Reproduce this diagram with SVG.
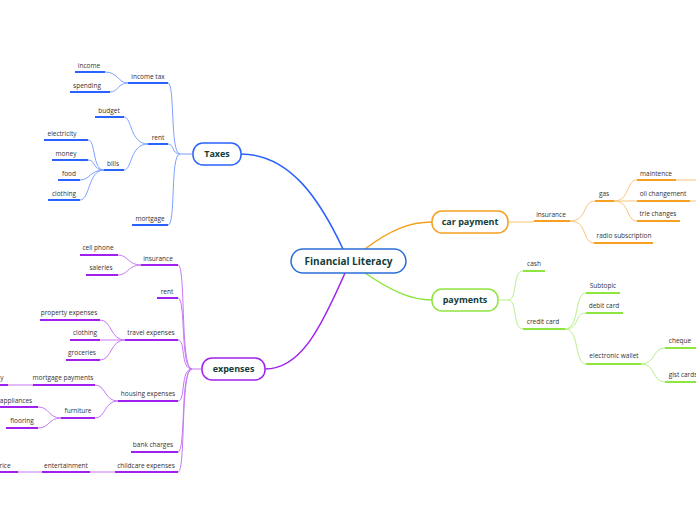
<svg xmlns="http://www.w3.org/2000/svg" width="696" height="520" viewBox="0 0 696 520">
<style>
text{font-family:"Open Sans","Liberation Sans",sans-serif;font-size:6.5px;fill:#333;text-anchor:middle}
.m{font-size:9px;font-weight:bold;fill:#123d3a}
.c{font-size:10px;font-weight:bold;fill:#123d3a}
.b{stroke:#2962ff}.p{stroke:#a020f0}.o{stroke:#f5a020}.g{stroke:#8ee53f}
.u{stroke-width:2;fill:none}
.l{fill:none;stroke-width:1;opacity:.6}
.n{fill:#fff;stroke-width:1.5}
</style>
<rect width="696" height="520" fill="#fff"/>
<g id="connectors">
<path class="b" fill="none" stroke-width="1.5" d="M343 249C320 200 290 154 241 154"/>
<path class="p" fill="none" stroke-width="1.5" d="M345 273C320 330 300 369 265 369"/>
<path class="o" fill="none" stroke-width="1.5" d="M365 249C390 230 410 222 432 222"/>
<path class="g" fill="none" stroke-width="1.5" d="M365 273C390 290 410 300 432 300"/>
<g class="l b">
<path d="M193 154H180C170 154 175 83 168 83"/><path d="M180 154C172 154 174 144 168 144"/><path d="M180 154C170 154 176 225 168 225"/>
<path d="M128 83C118 83 118 72 105 72"/><path d="M128 83C118 83 118 92 110 92"/>
<path d="M148 144C130 144 132 117 124 117"/><path d="M148 144C130 144 132 170 124 170"/>
<path d="M104 170C92 170 96 140 88 140"/><path d="M104 170C92 170 96 160 88 160"/><path d="M104 170C90 170 90 180 80 180"/><path d="M104 170C88 170 90 200 80 200"/>
</g>
<g class="l p">
<path d="M202 369H192C180 369 186 265 178 265"/><path d="M192 369C180 369 186 298 178 298"/><path d="M192 369C180 369 186 340 178 340"/><path d="M192 369C180 369 186 401 178 401"/><path d="M192 369C180 369 186 452 178 452"/><path d="M192 369C180 369 186 472 178 472"/>
<path d="M141 265C128 265 128 255 118 255"/><path d="M141 265C128 265 128 275 118 275"/>
<path d="M125 340C110 340 112 320 100 320"/><path d="M125 340H100"/><path d="M125 340C110 340 112 360 100 360"/>
<path d="M118 401C104 401 106 385 95 385"/><path d="M118 401C104 401 106 418 95 418"/><path d="M33 385H8"/>
<path d="M61 418C48 418 50 407 38 407"/><path d="M61 418C48 418 50 428 38 428"/>
<path d="M115 472H90"/><path d="M42 472H18"/>
</g>
<g class="l o">
<path d="M508 222H534"/><path d="M570 221C588 221 582 201 595 201"/><path d="M570 221C588 221 582 243 594 243"/>
<path d="M614 201C630 201 626 180 637 180"/><path d="M614 201H637"/><path d="M614 201C630 201 626 221 637 221"/><path d="M676 180H696"/><path d="M690 201H696"/>
</g>
<g class="l g">
<path d="M498 300H508C518 300 512 271 523 271"/><path d="M508 300C518 300 512 329 523 329"/>
<path d="M565 329C580 329 574 293 586 293"/><path d="M565 329C580 329 574 313 586 313"/><path d="M565 329C580 329 574 364 586 364"/>
<path d="M641 364C656 364 652 348 665 348"/><path d="M641 364C656 364 652 382 665 382"/>
</g>
</g>
<g id="central"><rect class="n" x="291" y="249" width="115" height="24" rx="12" stroke="#2a6fd6"/><text class="c" x="348.5" y="265">Financial Literacy</text></g>
<g id="taxes"><rect class="n b" x="193" y="143" width="48" height="22" rx="10"/><text class="m" x="217" y="157">Taxes</text>
<g class="u b"><path d="M128 83H168M75 72H105M70 92H110M148 144H168M95 117H124M104 170H124M44 140H88M52 160H88M58 180H80M48 200H80M132 225H168"/></g>
<text x="148" y="79">income tax</text><text x="89" y="68">income</text><text x="87" y="88">spending</text><text x="158" y="140">rent</text><text x="109" y="113">budget</text><text x="113" y="166">bills</text><text x="62" y="136">electricity</text><text x="66" y="156">money</text><text x="69" y="176">food</text><text x="64" y="196">clothing</text><text x="150" y="221">mortgage</text></g>
<g id="expenses"><rect class="n p" x="202" y="358" width="63" height="22" rx="10"/><text class="m" x="233.5" y="372">expenses</text>
<g class="u p"><path d="M141 265H178M80 255H118M86 275H118M157 298H178M125 340H178M40 320H100M70 340H100M66 360H100M33 385H95M0 385H8M118 401H178M61 418H95M0 407H38M6 428H38M131 452H178M115 472H178M42 472H90M0 472H18"/></g>
<text x="158" y="261">insurance</text><text x="98" y="250">cell phone</text><text x="101" y="270">saleries</text><text x="167" y="294">rent</text><text x="151" y="335">travel expenses</text><text x="69" y="315">property expenses</text><text x="85" y="335">clothing</text><text x="82" y="355">groceries</text><text x="63" y="380">mortgage payments</text><text x="2" y="380">y</text><text x="148" y="396">housing expenses</text><text x="78" y="413">furniture</text><text x="16" y="403">appliances</text><text x="22" y="423">flooring</text><text x="153" y="447">bank charges</text><text x="146" y="468">childcare expenses</text><text x="66" y="468">entertainment</text><text x="5" y="468">rice</text></g>
<g id="car-payment"><rect class="n o" x="432" y="211" width="76" height="22" rx="10"/><text class="m" x="470" y="225">car payment</text>
<g class="u o"><path d="M534 221H570M595 201H614M637 180H676M637 201H690M637 221H680M594 243H653"/></g>
<text x="551" y="217">insurance</text><text x="604" y="196">gas</text><text x="656" y="176">maintence</text><text x="663" y="196">oil changement</text><text x="658" y="216">trie changes</text><text x="624" y="238">radio subscription</text></g>
<g id="payments"><rect class="n g" x="432" y="289" width="66" height="22" rx="10"/><text class="m" x="465" y="303">payments</text>
<g class="u g"><path d="M523 271H545M523 329H565M586 293H620M586 313H623M586 364H641M665 348H696M665 382H696"/></g>
<text x="534" y="266">cash</text><text x="543" y="324">credit card</text><text x="603" y="288">Subtopic</text><text x="604" y="308">debit card</text><text x="614" y="358">electronic wallet</text><text x="680" y="343">cheque</text><text x="683" y="377">gist cards</text></g>
</svg>
